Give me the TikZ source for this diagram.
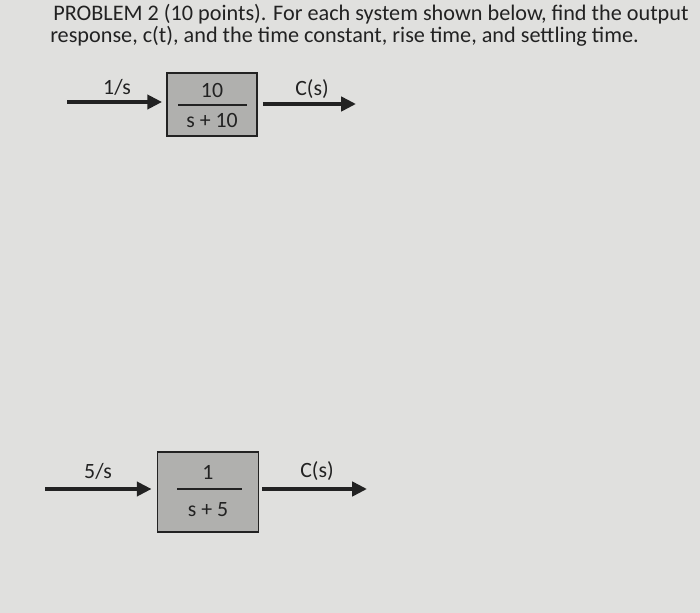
\documentclass[tikz,border=0pt]{standalone}
\usepackage{fontspec}
\setmainfont{Carlito}
\usetikzlibrary{arrows.meta}
\definecolor{paper}{RGB}{224,224,222}
\definecolor{boxgray}{RGB}{176,176,174}
\definecolor{ink}{RGB}{34,34,34}
\tikzset{
	blk/.style={draw=ink,fill=boxgray,line width=1.3pt,inner sep=0pt},
	sig/.style={ink,line width=3.3pt,-{Triangle[length=10.5pt,width=10pt]}},
	lbl/.style={text=ink,font=\fontsize{15.5}{17}\selectfont,inner sep=0pt},
	ttl/.style={text=ink,font=\fontsize{15.8}{17}\selectfont,inner sep=0pt,anchor=base west}
}
\begin{document}
\begin{tikzpicture}[x=0.025cm,y=-0.025cm]
		\fill[paper] (0,0) rectangle (700,613);
		\useasboundingbox (0,0) rectangle (700,613);
		% heading
		\node[ttl] (line1) at (53,20) {PROBLEM 2 (10 points). For each system shown below, find the output};
		\node[ttl] (line2) at (50,42) {response, c(t), and the time constant, rise time, and settling time.};
		
		% first system
		\node[blk,minimum width=90*0.025cm,minimum height=63*0.025cm] (g1) at (212,104.5) {};
		\node[lbl] (num1) at (212,90) {10};
		\node[lbl] (den1) at (212,121) {s + 10};
		\draw[ink,line width=1.1pt] (178,105) -- (247,105);
		\coordinate (in1) at (67,102);
		\coordinate (out1) at (356,104);
		\draw[sig,shorten >=4*0.025cm] (in1) -- (in1-|g1.west);
		\draw[sig,shorten <=5*0.025cm] (out1-|g1.east) -- (out1);
		\node[lbl] (r1) at (117,87) {1/s};
		\node[lbl] (c1) at (312,89) {C(s)};
		
		% second system
		\node[blk,minimum width=101*0.025cm,minimum height=80*0.025cm] (g2) at (208,492) {};
		\node[lbl] (num2) at (208,472) {1};
		\node[lbl] (den2) at (208,510) {s + 5};
		\draw[ink,line width=1.1pt] (177,489) -- (242,489);
		\coordinate (in2) at (45,489);
		\coordinate (out2) at (367,489);
		\draw[sig,shorten >=5*0.025cm] (in2) -- (in2-|g2.west);
		\draw[sig,shorten <=3*0.025cm] (out2-|g2.east) -- (out2);
		\node[lbl] (r2) at (98,471) {5/s};
		\node[lbl] (c2) at (317,471) {C(s)};
\end{tikzpicture}
\end{document}
